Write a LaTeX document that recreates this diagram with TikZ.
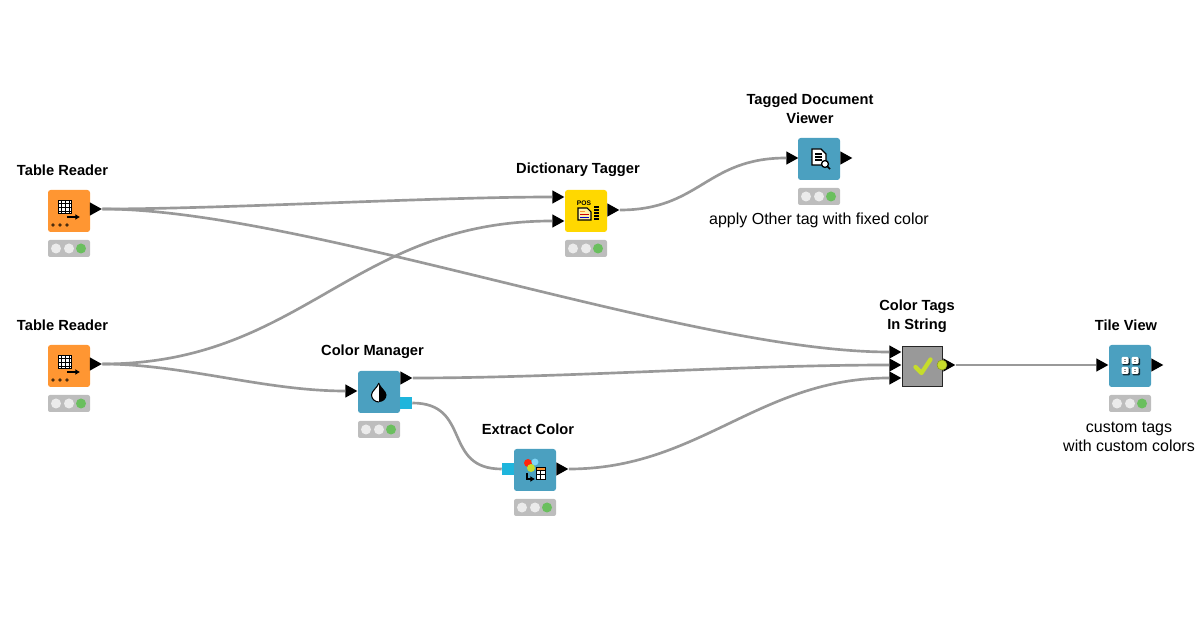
\documentclass[tikz,border=0pt]{standalone}
\usepackage{fontspec}
\setmainfont{Liberation Sans}
\usetikzlibrary{shapes.geometric,arrows.meta}
\definecolor{knorange}{HTML}{FF9632}
\definecolor{knyellow}{HTML}{FFD800}
\definecolor{knblue}{HTML}{4BA0C0}
\definecolor{kncyan}{HTML}{1FB5DC}
\definecolor{knwire}{HTML}{999999}
\definecolor{knlight}{HTML}{BDBDBD}
\definecolor{kngreen}{HTML}{6ABF5E}
\definecolor{knlime}{HTML}{C6DC2B}
\begin{document}
\begin{tikzpicture}[
  x=0.75pt,
  y=-0.75pt,
  knode/.style = {
    rectangle,
    rounded corners=2pt,
    minimum size=31.5pt,
    inner sep=0pt
  },
  tlight/.style = {
    rectangle,
    rounded corners=1.5pt,
    fill=knlight,
    minimum width=31.5pt,
    minimum height=12.75pt,
    inner sep=0pt
  },
  lamp/.style={circle, fill=#1, minimum size=7.5pt, inner sep=0pt},
  inport/.style = {
    isosceles triangle,
    isosceles triangle stretches,
    fill=black,
    minimum height=9pt,
    minimum width=10pt,
    inner sep=0pt,
    anchor=east
  },
  outport/.style={inport, anchor=west},
  cport/.style={rectangle, fill=kncyan, minimum size=9pt, inner sep=0pt},
  title/.style={node font=\bfseries\fontsize{11}{14.25}\selectfont, align=center, inner sep=0pt},
  remark/.style={node font=\fontsize{12}{14.25}\selectfont, align=center, inner sep=0pt},
  wire/.style={draw=knwire, line width=2pt},
  iconarrow/.style={-{Latex[length=3.5pt,width=4.5pt]}, black, line width=1.1pt}
]
    \useasboundingbox (0,0) rectangle (1200,630);
    % nodes
    \foreach \n/\x/\y/\c in {tra/69/211/knorange, trb/69/366/knorange, dict/586/211/knyellow,
      viewer/819/159/knblue, cm/379/392/knblue, extract/535/470/knblue, tile/1130/366/knblue}{
        \node[knode, fill=\c] (\n) at (\x,\y) {};
    }
    \node[knode, rounded corners=0pt, minimum size=30pt, fill=knwire, draw=black!85, line width=1.3pt] (tags) at (922.5,366.5) {};
    % traffic lights
    \foreach \n/\x/\y in {tra/69/248.5, trb/69/403.5, dict/586/248.5, viewer/819/196.5, cm/379/429.5, extract/535/507.5, tile/1130/403.5}{
        \node[tlight] (\n l) at (\x,\y) {};
        \node[lamp=white!92!black] (\n a) at (\x-13,\y) {};
        \node[lamp=white!92!black] (\n b) at (\x,\y) {};
        \node[lamp=kngreen] (\n c) at (\x+12,\y) {};
    }
    % ports
    \node[outport] (trao) at (89.5,209) {};
    \node[outport] (trbo) at (89.5,364) {};
    \node[inport] (dicti) at (565,197) {};
    \node[inport] (dictii) at (565,221) {};
    \node[outport] (dicto) at (607,210) {};
    \node[inport] (vieweri) at (799,158) {};
    \node[outport] (viewero) at (840,158) {};
    \node[inport] (cmi) at (358,391) {};
    \node[outport] (cmo) at (400,378) {};
    \node[cport] (cmc) at (406,403) {};
    \node[cport] (extractc) at (508,469) {};
    \node[outport] (extracto) at (556,469) {};
    \node[inport] (tagsi) at (902,352) {};
    \node[inport] (tagsii) at (902,365) {};
    \node[inport] (tagsiii) at (902,378) {};
    \node[outport] (tagso) at (943,365) {};
    \node[inport] (tilei) at (1109,365) {};
    \node[outport] (tileo) at (1151,365) {};
    \node[lamp=knlime, draw=knlime!70!black, line width=0.4pt] (tagsdot) at (942,365) {};
    % wires
    \draw[wire] (trao.east) .. controls +(120,0) and +(-120,0) .. (dicti.west);
    \draw[wire] (trao.east) .. controls +(200,0) and +(-200,0) .. (tagsi.west);
    \draw[wire] (trbo.east) .. controls +(200,0) and +(-200,0) .. (dictii.west);
    \draw[wire] (trbo.east) .. controls +(80,0) and +(-80,0) .. (cmi.west);
    \draw[wire] (cmo.east) .. controls +(150,0) and +(-150,0) .. (tagsii.west);
    \draw[wire] (cmc.east) .. controls +(60,0) and +(-60,0) .. (extractc.west);
    \draw[wire] (extracto.east) .. controls +(130,0) and +(-130,0) .. (tagsiii.west);
    \draw[wire] (dicto.east) .. controls +(80,0) and +(-80,0) .. (vieweri.west);
    \draw[wire] (tagso.east) -- (tilei.west);
    % labels
    \node[title] (traname) at (62.5,170) {Table Reader};
    \node[title] (trbname) at (62.5,325) {Table Reader};
    \node[title] (dictname) at (578,170) {Dictionary Tagger};
    \node[title] (viewername) at (810,109) {Tagged Document\\Viewer};
    \node[title] (cmname) at (372.5,351.5) {Color Manager};
    \node[title] (extractname) at (528,429) {Extract Color};
    \node[title] (tagsname) at (917,316) {Color Tags\\In String};
    \node[title] (tilename) at (1126,325) {Tile View};
    \node[remark] (viewertext) at (819,220) {apply Other tag with fixed color};
    \node[remark] (tiletext) at (1129,436.5) {custom tags\\with custom colors};
    % icons
    \foreach \n in {tra,trb}{
      \begin{scope}[shift={(\n)}]
        \fill[white] (-11,-11) rectangle (2,2);
        \draw[black, line width=0.6pt, step=3pt] (-11,-11) grid (2,2);
        \draw[black, line width=0.6pt] (-11,-11) rectangle (2,2);
        \draw[iconarrow] (-2,6) -- (11,6);
        \foreach \d in {-16,-9,-2}{
            \fill[black!70!knorange] (\d,14) circle (1.4pt);
        }
      \end{scope}
    }
    \begin{scope}[shift={(dict)}]
      \node[inner sep=0pt, node font=\bfseries\fontsize{5}{6}\selectfont] (dictpos) at (-2,-8) {POS};
      \draw[black, fill=knyellow!35!white, line width=0.8pt] (-8,-3) -- (1,-3) -- (5,1) -- (5,9) -- (-8,9) -- cycle;
      \fill[knorange] (-6,0) rectangle (-1,1.5);
      \fill[red!80!black] (-6,3) rectangle (3,4.5);
      \fill[blue!80!black] (-6,6) rectangle (3,7.5);
      \foreach \t in {-4,-1,2,5,8}{
        \draw[black, line width=0.8pt] (8,\t) -- (13,\t);
      }
    \end{scope}
    \begin{scope}[shift={(viewer)}]
      \draw[black, fill=white, line width=1pt] (-7,-10) -- (2,-10) -- (7,-5) -- (7,6) -- (-7,6) -- cycle;
      \foreach \t in {-5,-2,1}{
        \draw[black, line width=0.8pt] (-4,\t) -- (3,\t);
      }
      \draw[black, fill=white, line width=1pt] (6,5) circle (2.6pt);
      \draw[black, line width=1.2pt] (8.5,7.5) -- (11,10);
    \end{scope}
    \begin{scope}[shift={(cm)}]
      \fill[white] (0,-9) .. controls (-2,-4) and (-7.5,-1) .. (-7.5,3) .. controls (-7.5,7) and (-4,10) .. (0,10) -- cycle;
      \fill[black] (0,-9) .. controls (2,-4) and (7.5,-1) .. (7.5,3) .. controls (7.5,7) and (4,10) .. (0,10) -- cycle;
      \draw[black, line width=0.8pt] (0,-9) .. controls (-2,-4) and (-7.5,-1) .. (-7.5,3) .. controls (-7.5,7) and (-4,10) .. (0,10);
    \end{scope}
    \begin{scope}[shift={(extract)}]
      \fill[red!75!knorange] (-7,-7) circle (3pt);
      \fill[cyan!50!white] (0,-8) circle (2.6pt);
      \fill[knlime] (-4,-2) circle (3pt);
      \draw[iconarrow] (-8,3) -- (-8,9) -- (0,9);
      \fill[white] (1,-3) rectangle (10,9);
      \fill[knorange] (1,-3) rectangle (10,0);
      \draw[black, line width=0.5pt] (1,-3) rectangle (10,9) (1,0) -- (10,0) (1,4.5) -- (10,4.5) (5.5,0) -- (5.5,9);
    \end{scope}
    \begin{scope}[shift={(tags)}]
      \draw[knlime, line width=3.2pt, line cap=round, line join=round] (-7,0.5) -- (-1,6.5) -- (8,-7);
    \end{scope}
    \begin{scope}[shift={(tile)}]
      \foreach \a/\b in {-5/-5.5, 5/-5.5, -5/4.5, 5/4.5}{
        \fill[black!70!knblue, rounded corners=0.8pt] (\a-2.5,\b-2.5) rectangle (\a+5,\b+5);
        \fill[white, rounded corners=0.8pt] (\a-3.5,\b-3.5) rectangle (\a+3.5,\b+3.5);
        \fill[black!45] (\a-0.8,\b-1.8) rectangle (\a+0.8,\b-0.4);
        \fill[black!45] (\a-0.8,\b+0.4) rectangle (\a+0.8,\b+1.8);
      }
    \end{scope}
\end{tikzpicture}
\end{document}
